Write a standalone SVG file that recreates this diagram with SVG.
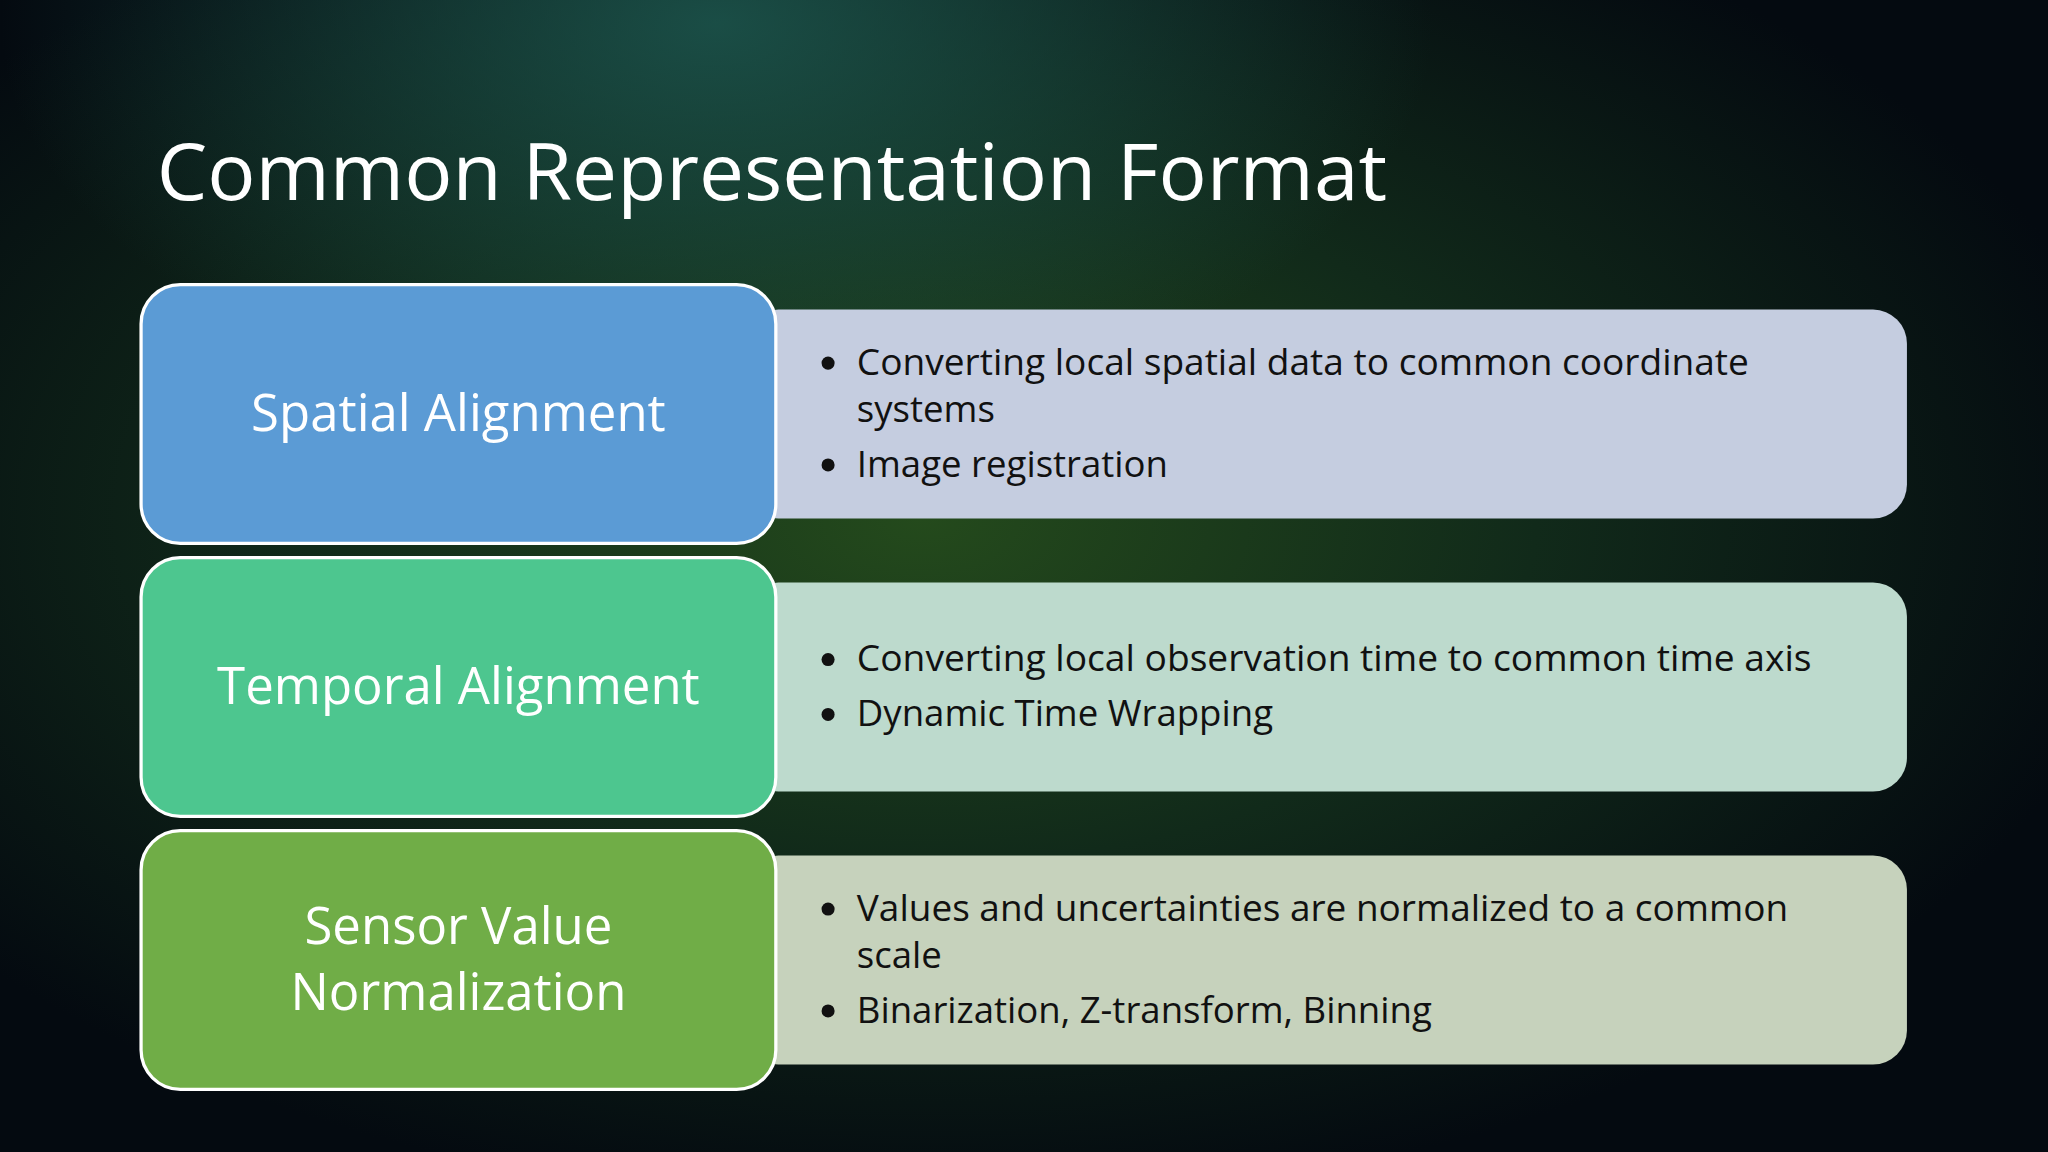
<svg xmlns="http://www.w3.org/2000/svg" width="2048" height="1152" viewBox="0 0 2048 1152">
<defs>
<radialGradient id="g1" cx="0.45" cy="0.45" r="0.6">
<stop offset="0" stop-color="#244a1c"/>
<stop offset="0.5" stop-color="#112a1a"/>
<stop offset="1" stop-color="#040a10"/>
</radialGradient>
<radialGradient id="g2" cx="0.35" cy="0.02" r="0.35">
<stop offset="0" stop-color="#1e5a52" stop-opacity="0.8"/>
<stop offset="1" stop-color="#1e5a52" stop-opacity="0"/>
</radialGradient>
<style>
.lbl{font-family:"Open Sans","Liberation Sans",sans-serif;font-size:39px;fill:#fff;text-anchor:middle}
.bul{font-family:"Open Sans","Liberation Sans",sans-serif;font-size:28px;fill:#111}
.lb{stroke:#fff;stroke-width:2.5}
</style>
</defs>
<rect width="2048" height="1152" fill="url(#g1)"/>
<rect width="2048" height="1152" fill="url(#g2)"/>
<g transform="scale(1.30612)">
<text x="120" y="153" font-family="Open Sans, Liberation Sans, sans-serif" font-size="60" fill="#fff" textLength="942" lengthAdjust="spacingAndGlyphs">Common Representation Format</text>
<g id="row1">
<rect x="570" y="237" width="890" height="160" rx="26" fill="#c5cde0"/>
<rect class="lb" x="108" y="218" width="486" height="198" rx="30" fill="#5b9bd5"/>
<text class="lbl" x="351" y="330">Spatial Alignment</text>
<circle cx="634" cy="278" r="5" fill="#111"/><text class="bul" x="656" y="287" textLength="683" lengthAdjust="spacingAndGlyphs">Converting local spatial data to common coordinate</text>
<text class="bul" x="656" y="323">systems</text>
<circle cx="634" cy="356" r="5" fill="#111"/><text class="bul" x="656" y="365">Image registration</text>
</g>
<g id="row2">
<rect x="570" y="446" width="890" height="160" rx="26" fill="#bddacd"/>
<rect class="lb" x="108" y="427" width="486" height="198" rx="30" fill="#4dc68f"/>
<text class="lbl" x="351" y="539">Temporal Alignment</text>
<circle cx="634" cy="505" r="5" fill="#111"/><text class="bul" x="656" y="514" textLength="731" lengthAdjust="spacingAndGlyphs">Converting local observation time to common time axis</text>
<circle cx="634" cy="547" r="5" fill="#111"/><text class="bul" x="656" y="556">Dynamic Time Wrapping</text>
</g>
<g id="row3">
<rect x="570" y="655" width="890" height="160" rx="26" fill="#c6d2bc"/>
<rect class="lb" x="108" y="636" width="486" height="198" rx="30" fill="#70ad47"/>
<text class="lbl" x="351" y="723">Sensor Value</text>
<text class="lbl" x="351" y="773">Normalization</text>
<circle cx="634" cy="696" r="5" fill="#111"/><text class="bul" x="656" y="705" textLength="713" lengthAdjust="spacingAndGlyphs">Values and uncertainties are normalized to a common</text>
<text class="bul" x="656" y="741">scale</text>
<circle cx="634" cy="774" r="5" fill="#111"/><text class="bul" x="656" y="783">Binarization, Z-transform, Binning</text>
</g>
<g id="connectors"/>
</g>
</svg>
